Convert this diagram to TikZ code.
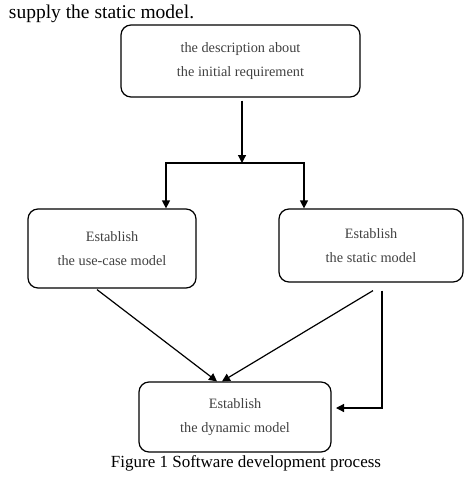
\documentclass[tikz,border=0pt]{standalone}
\usepackage{fontspec}
\setmainfont{Liberation Serif}
\usetikzlibrary{arrows.meta,positioning}

\begin{document}
\begin{tikzpicture}
                [x=1pt, y=-1pt, >={Triangle[length=8pt,width=8pt]},
                line width=1.2pt,
                stage/.style={draw, rounded corners=10pt, align=center,
                    text=black!75, inner sep=0pt,
                    font=\fontsize{14.3}{23.5}\selectfont},
                ]
                \useasboundingbox (0,0) rectangle (474,495);

                \node[anchor=base west, font=\fontsize{19.5}{22}\selectfont]
                    (prev) at (5,19) {supply the static model.};

                \node[stage, minimum width=239pt, minimum height=72pt]
                    (desc) at (240.5,61)
                    {the description about\\the initial requirement};
                \node[stage, minimum width=168pt, minimum height=79pt]
                    (usecase) at (112,248.5)
                    {Establish\\the use-case model};
                \node[stage, minimum width=184pt, minimum height=73pt]
                    (static) at (371,245.5)
                    {Establish\\the static model};
                \node[stage, minimum width=192pt, minimum height=70pt]
                    (dynamic) at (235,417)
                    {Establish\\the dynamic model};

                \node[font=\fontsize{17}{20}\selectfont]
                    (caption) at (246,463)
                    {Figure 1 Software development process};

                \coordinate (split) at (242,163);
                \coordinate (turn) at (382,408);
                \coordinate (side) at (336,408);

                \draw[->] ([yshift=-3pt]desc.south -| split) -- (split);
                \draw[->] (split) -| ([xshift=54pt]usecase.north);
                \draw[->] (split) -| ([xshift=-67pt]static.north);

                \draw[->] ([xshift=-15pt,yshift=-1pt]usecase.south) -- ([xshift=-18pt]dynamic.north);
                \draw[->] ([xshift=2pt,yshift=-8pt]static.south) -- ([xshift=-13pt]dynamic.north);
                \draw[->] ([xshift=11pt,yshift=-8pt]static.south) -- (turn) -- (side);
\end{tikzpicture}
\end{document}
